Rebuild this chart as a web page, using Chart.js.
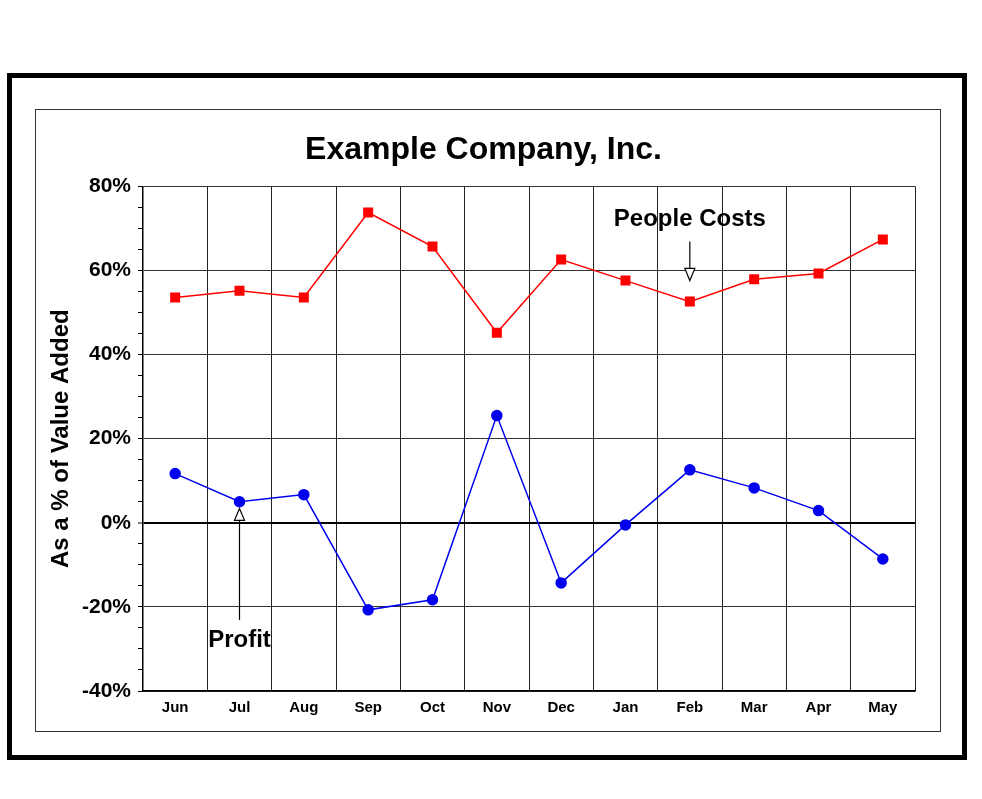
<!DOCTYPE html>
<html>
<head>
<meta charset="utf-8">
<script src="https://cdn.jsdelivr.net/npm/chart.js@4"></script>
<style>
  body { margin: 0; background: #fff; width: 982px; height: 799px; position: relative; overflow: hidden; }
  #outer { position: absolute; left: 7px; top: 73px; width: 950px; height: 677px; border: 5px solid #000; }
  #inner { position: absolute; left: 35px; top: 109px; width: 904px; height: 621px; border: 1.5px solid #333; }
  #wrap { position: absolute; left: 36px; top: 110px; width: 905px; height: 622px; }
</style>
</head>
<body>
<div id="outer"></div>
<div id="inner"></div>
<div id="wrap"><canvas id="chart"></canvas></div>
<script>
const months = ['Jun', 'Jul', 'Aug', 'Sep', 'Oct', 'Nov', 'Dec', 'Jan', 'Feb', 'Mar', 'Apr', 'May'];
const peopleCosts = [53.6, 55.2, 53.6, 73.8, 65.7, 45.2, 62.6, 57.6, 52.6, 57.9, 59.3, 67.4];
const profit = [11.7, 5.0, 6.7, -20.7, -18.3, 25.5, -14.3, -0.5, 12.6, 8.3, 2.9, -8.6];
const yTicks = [-40, -20, 0, 20, 40, 60, 80];

// callouts: label position and arrow (from, base of head, tip) in data units
const callouts = [
  { text: 'People Costs', idx: 8, textY: 72.1, from: 66.9, base: 60.5, tip: 57.6 },
  { text: 'Profit', idx: 1, textY: -27.9, from: -23.1, base: 0.6, tip: 3.4 },
];

const calloutPlugin = {
  id: 'callouts',
  afterDatasetsDraw(chart) {
    const { ctx, scales: { x, y } } = chart;
    ctx.save();
    ctx.font = 'bold 24px "Liberation Sans", Arial, sans-serif';
    ctx.fillStyle = '#000';
    ctx.textAlign = 'center';
    ctx.textBaseline = 'middle';
    callouts.forEach((c) => {
      const px = x.getPixelForValue(c.idx);
      ctx.fillText(c.text, px, y.getPixelForValue(c.textY));
      ctx.strokeStyle = '#000';
      ctx.lineWidth = 1.2;
      ctx.beginPath();
      ctx.moveTo(px, y.getPixelForValue(c.from));
      ctx.lineTo(px, y.getPixelForValue(c.base));
      ctx.stroke();
      const by = y.getPixelForValue(c.base);
      const ty = y.getPixelForValue(c.tip);
      ctx.fillStyle = '#fff';
      ctx.beginPath();
      ctx.moveTo(px - 5, by);
      ctx.lineTo(px + 5, by);
      ctx.lineTo(px, ty);
      ctx.closePath();
      ctx.fill();
      ctx.stroke();
      ctx.fillStyle = '#000';
    });
    ctx.restore();
  },
};

new Chart(document.getElementById('chart').getContext('2d'), {
  type: 'line',
  data: {
    labels: months,
    datasets: [
      {
        label: 'People Costs',
        data: peopleCosts,
        borderColor: '#ff0000',
        backgroundColor: '#ff0000',
        borderWidth: 1.5,
        pointStyle: 'rect',
        pointRadius: 6,
        tension: 0,
      },
      {
        label: 'Profit',
        data: profit,
        borderColor: '#0000ee',
        backgroundColor: '#0000ee',
        borderWidth: 1.5,
        pointStyle: 'circle',
        pointRadius: 5,
        tension: 0,
      },
    ],
  },
  options: {
    responsive: true,
    maintainAspectRatio: false,
    animation: false,
    layout: { padding: { left: 16, right: 26, top: 0, bottom: 0 } },
    plugins: {
      legend: { display: false },
      tooltip: { enabled: false },
      title: {
        display: true,
        text: 'Example Company, Inc.',
        color: '#000',
        font: { family: '"Liberation Sans", Arial, sans-serif', size: 32, weight: 'bold', lineHeight: 1.2 },
        padding: { top: 21, bottom: 17 },
      },
    },
    scales: {
      x: {
        offset: true,
        grid: { offset: true, color: '#222', lineWidth: 1, drawTicks: false },
        border: { color: '#000', width: 1.5 },
        ticks: {
          color: '#000',
          padding: 8,
          font: { family: '"Liberation Sans", Arial, sans-serif', size: 15, weight: 'bold' },
        },
        afterFit: (scale) => { scale.height = 41; },
      },
      y: {
        min: yTicks[0],
        max: yTicks[yTicks.length - 1],
        title: {
          display: true,
          text: 'As a % of Value Added',
          color: '#000',
          font: { family: '"Liberation Sans", Arial, sans-serif', size: 24, weight: 'bold', lineHeight: 0.8 },
          padding: { top: 0, bottom: 0 },
        },
        grid: {
          color: (c) => (yTicks.includes(c.tick.value) ? (c.tick.value === 0 ? '#000' : '#333') : 'transparent'),
          lineWidth: (c) => (c.tick.value === 0 ? 2 : 1),
          tickColor: '#000',
          tickWidth: 1,
          tickLength: 5,
        },
        border: { color: '#000', width: 1.5 },
        ticks: {
          stepSize: 5,
          autoSkip: false,
          color: '#000',
          padding: 7,
          font: { family: '"Liberation Sans", Arial, sans-serif', size: 21, weight: 'bold' },
          callback: (v) => (yTicks.includes(v) ? v + '%' : ''),
        },
        afterFit: (scale) => { scale.width = 91; },
      },
    },
  },
  plugins: [calloutPlugin],
});
</script>
</body>
</html>
